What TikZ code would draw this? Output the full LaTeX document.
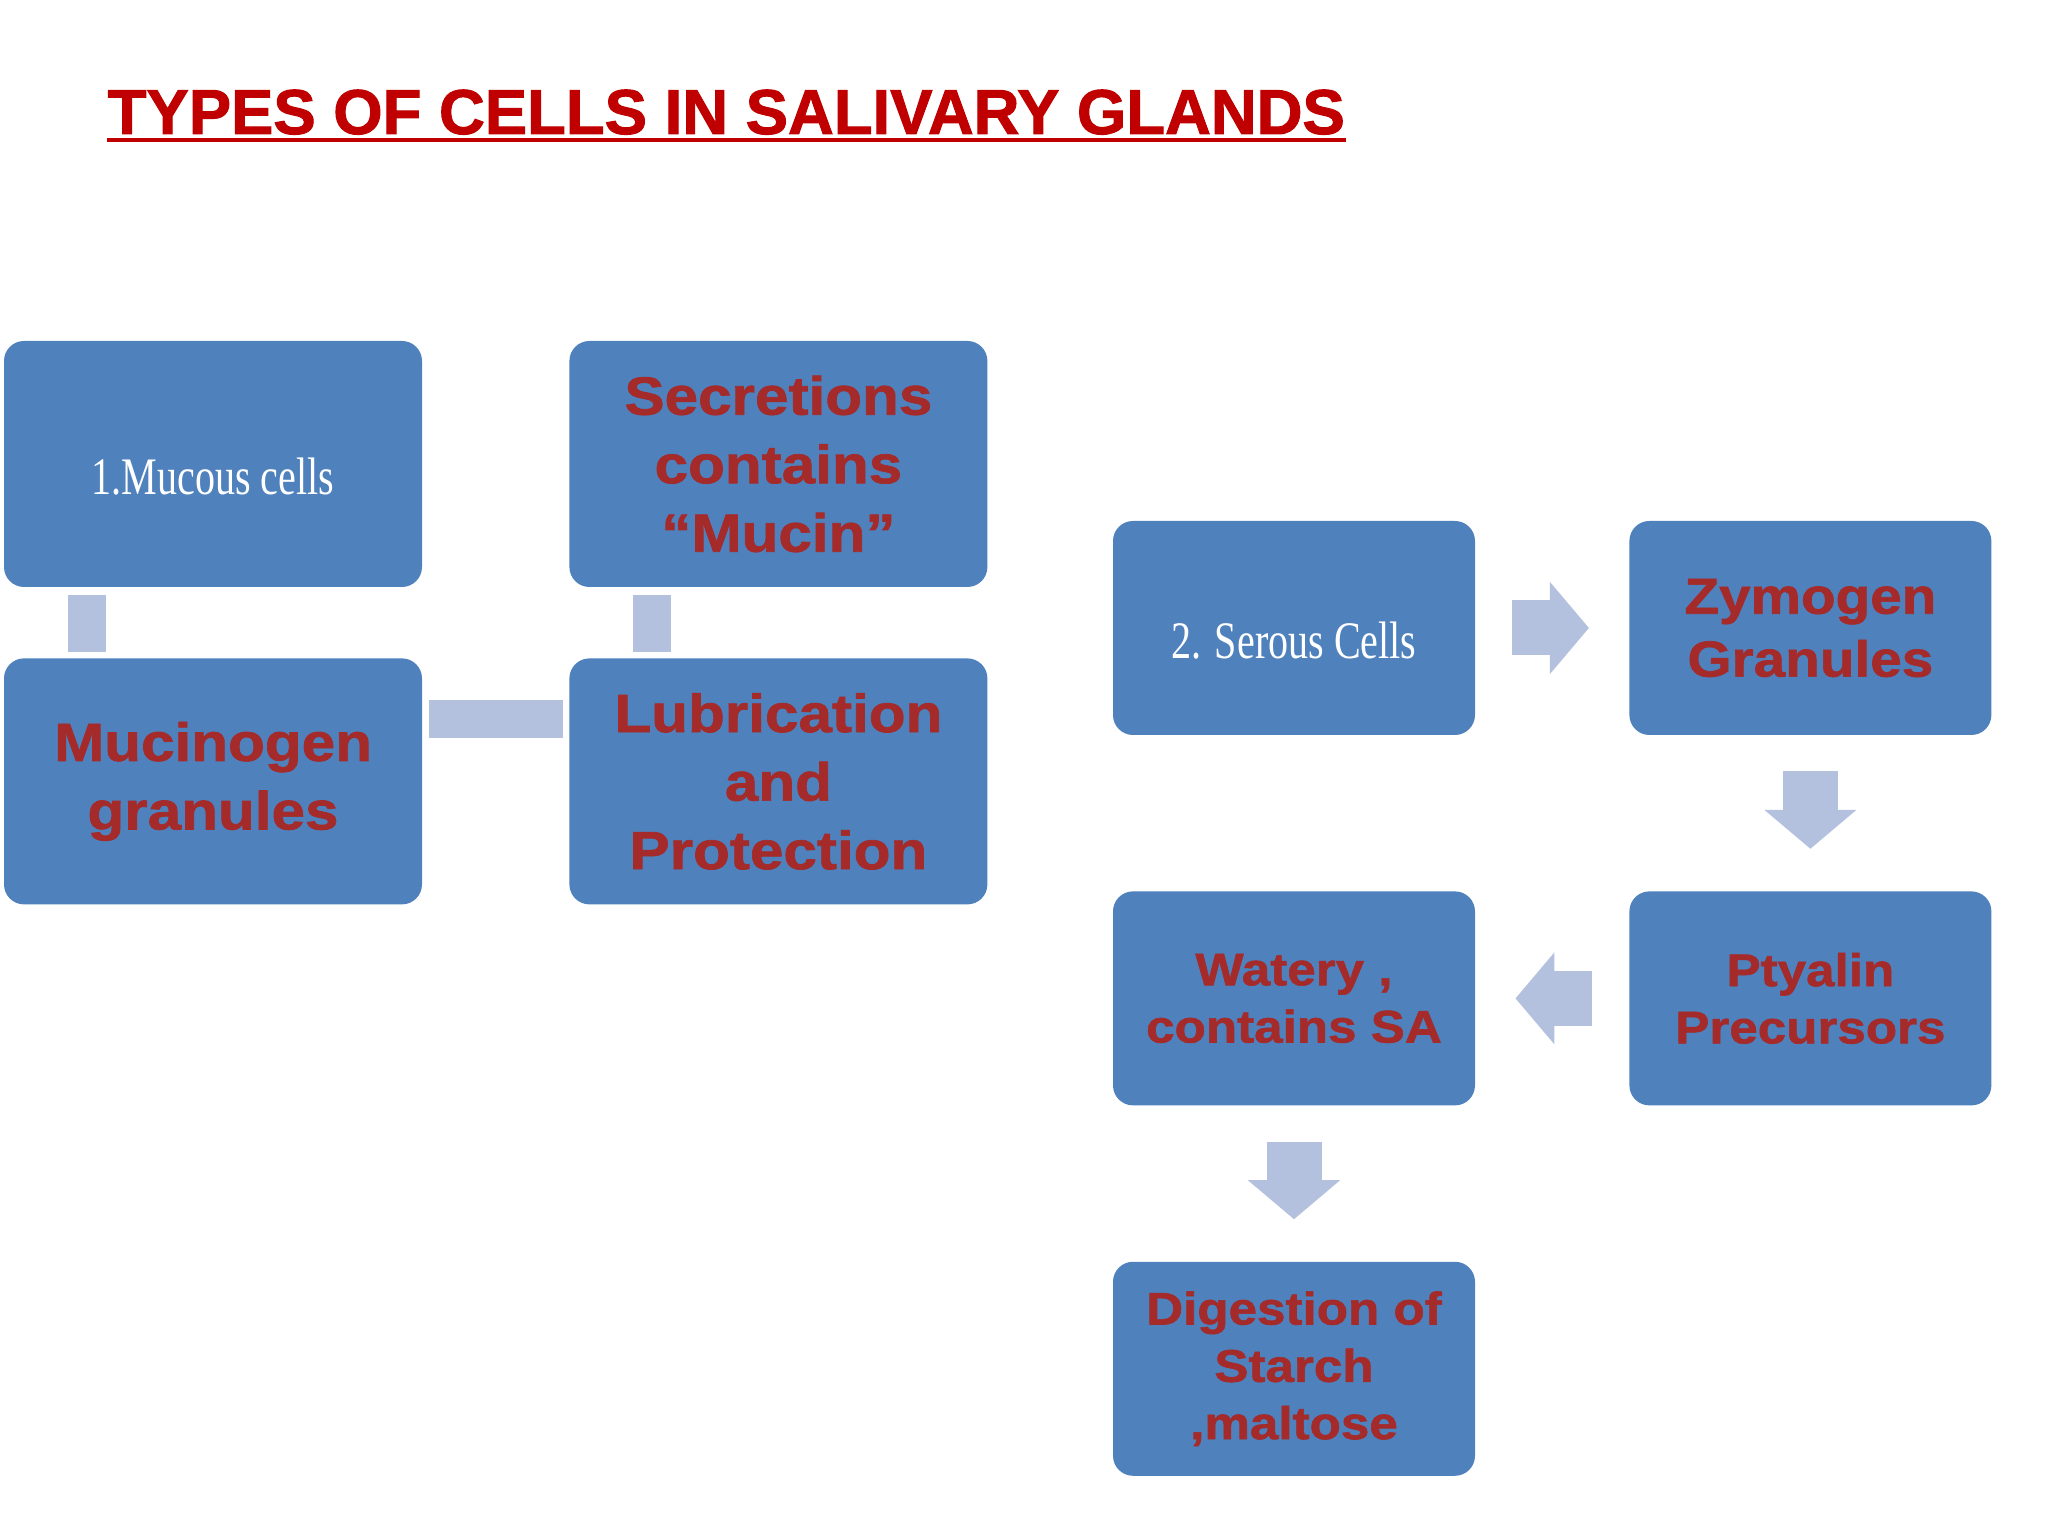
\documentclass[tikz,border=0pt]{standalone}
\usepackage{fontspec}
\setmainfont{Liberation Sans}
\newfontfamily\titlefont[FakeBold=1.6]{Liberation Sans Bold}
\newfontfamily\redfont[FakeStretch=1.12,FakeBold=1.3]{Liberation Sans Bold}
\newfontfamily\cellfont[FakeStretch=0.76]{Liberation Serif}
\usetikzlibrary{arrows.meta, positioning, calc}
\definecolor{TitleRed}  {RGB}{192,   0,   0}
\definecolor{BoxBlue}   {RGB}{ 79, 129, 189}
\definecolor{TextRed}   {RGB}{165,  42,  42}
\definecolor{LinkBlue}  {RGB}{179, 193, 222}
\tikzset{
  % Blue rounded box
  glandbox/.style={
    rectangle, rounded corners=0.2cm,
    fill=BoxBlue, draw=none,
    inner sep=2pt, align=center
  },
  % Left column boxes
  mucbox/.style={
    glandbox, minimum width=4.18cm, minimum height=2.46cm
  },
  % Right column boxes
  serbox/.style={
    glandbox, minimum width=3.62cm, minimum height=2.14cm
  },
  % White serif heading text (sits a little low in its box)
  celltext/.style={
    text=white, font=\cellfont\fontsize{15pt}{18pt}\selectfont,
    text height=0.62cm, text depth=0cm
  },
  % Red bold text, three sizes
  redbig/.style={
    text=TextRed, font=\redfont\fontsize{15.3pt}{19.5pt}\selectfont
  },
  redmid/.style={
    text=TextRed, font=\redfont\fontsize{14.4pt}{17.9pt}\selectfont
  },
  redsmall/.style={
    text=TextRed, font=\redfont\fontsize{13pt}{16.3pt}\selectfont
  },
  % Plain bar between boxes
  linkbar/.style={
    line width=0.38cm, color=LinkBlue
  },
  % Block arrow between boxes
  blockarrow/.style={
    line width=0.55cm, color=LinkBlue,
    -{Triangle[width=0.9cm, length=0.39cm]}
  }
}

\begin{document}
\begin{tikzpicture}
  \useasboundingbox[fill=white] (0,0) rectangle (20.48,15.36);

  % ── Title ─────────────────────────────────────────────────────────────────
  \node[anchor=base west, inner sep=0pt, text=TitleRed,
        font=\titlefont\fontsize{18.05pt}{20pt}\selectfont] (title) at (1.07,14.02)
        {TYPES OF CELLS IN SALIVARY GLANDS};
  \draw[TitleRed, line width=0.035cm]
        ([yshift=-0.06cm]title.base west) -- ([yshift=-0.06cm]title.base east);

  % ── Mucous cells ──────────────────────────────────────────────────────────
  \node[mucbox, celltext] (mucous) at (2.13,10.72) {1.Mucous cells};
  \node[mucbox, redbig, right=1.46cm of mucous] (secretion)
        {Secretions\\contains\\“Mucin”};
  \node[mucbox, redbig, below=0.70cm of mucous] (mucinogen)
        {Mucinogen\\granules};
  \node[mucbox, redbig, below=0.70cm of secretion] (lubrication)
        {Lubrication\\and\\Protection};

  % ── Serous cells ──────────────────────────────────────────────────────────
  \node[serbox, celltext] (serous) at (12.94,9.08) {2. Serous Cells};
  \node[serbox, redmid, right=1.53cm of serous] (zymogen)
        {Zymogen\\Granules};
  \node[serbox, redsmall, below=1.55cm of zymogen] (ptyalin)
        {Ptyalin\\Precursors};
  \node[serbox, redsmall, below=1.55cm of serous] (watery)
        {Watery ,\\contains SA};
  \node[serbox, redsmall, below=1.55cm of watery] (digestion)
        {Digestion of\\Starch\\,maltose};

  % ── Bars: mucous side ─────────────────────────────────────────────────────
  \draw[linkbar] ([xshift=-1.26cm,yshift=-0.07cm]mucous.south)
        -- ([xshift=-1.26cm,yshift=0.06cm]mucinogen.north);
  \draw[linkbar] ([xshift=-1.26cm,yshift=-0.07cm]secretion.south)
        -- ([xshift=-1.26cm,yshift=0.06cm]lubrication.north);
  \draw[linkbar] ([xshift=0.06cm,yshift=-0.61cm]mucinogen.north east)
        -- ([xshift=-0.06cm,yshift=-0.61cm]lubrication.north west);

  % ── Arrows: serous side ───────────────────────────────────────────────────
  \draw[blockarrow] ($(serous.east)!0.24!(zymogen.west)$)
        -- ($(serous.east)!0.74!(zymogen.west)$);
  \draw[blockarrow] ($(zymogen.south)!0.23!(ptyalin.north)$)
        -- ($(zymogen.south)!0.73!(ptyalin.north)$);
  \draw[blockarrow] ($(ptyalin.west)!0.24!(watery.east)$)
        -- ($(ptyalin.west)!0.74!(watery.east)$);
  \draw[blockarrow] ($(watery.south)!0.23!(digestion.north)$)
        -- ($(watery.south)!0.73!(digestion.north)$);

\end{tikzpicture}
\end{document}
